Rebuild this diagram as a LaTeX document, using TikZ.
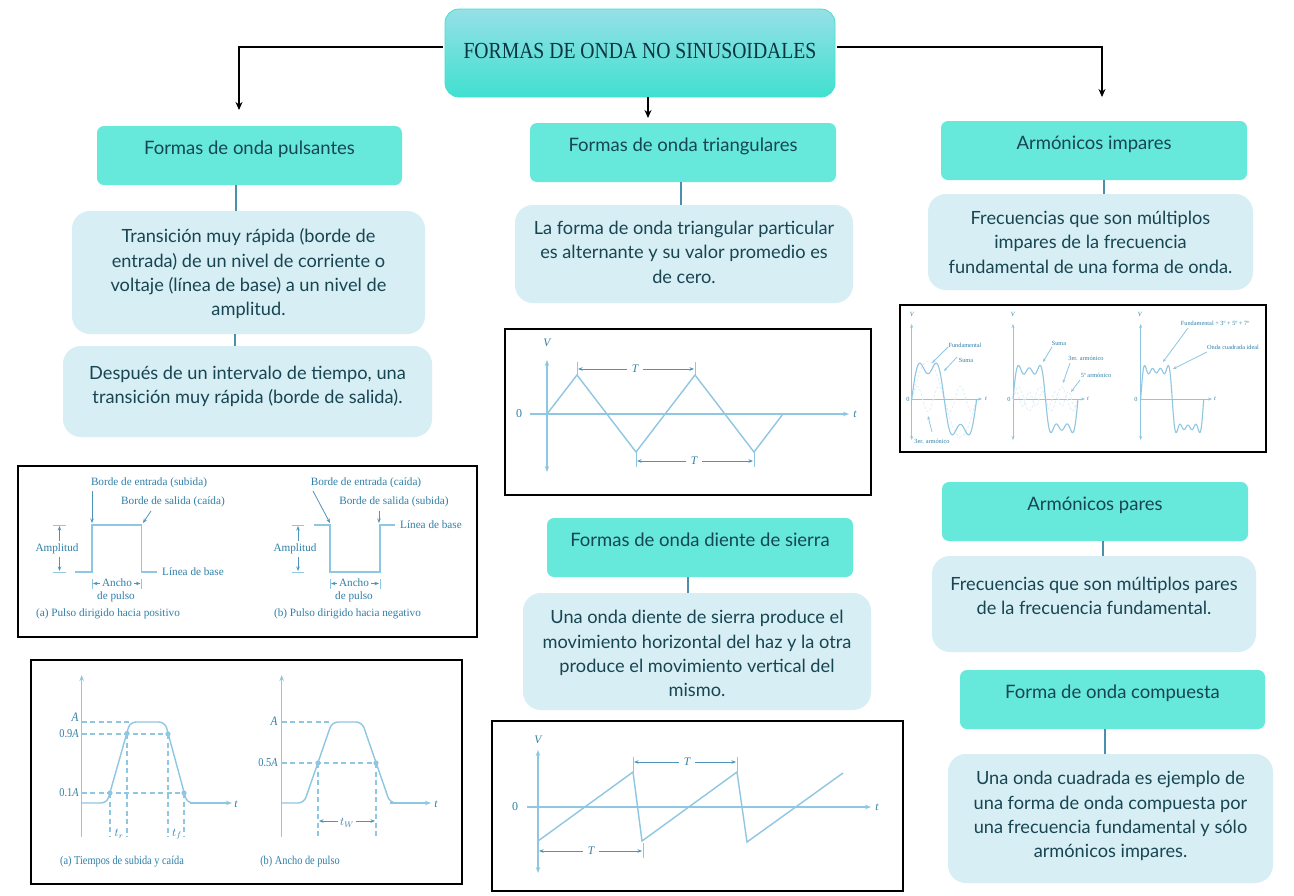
\documentclass[tikz,border=0pt]{standalone}
\usepackage{fontspec}
\usepackage{graphicx}
\setmainfont{Lato}
\newfontfamily\figfont{Liberation Serif}
\usetikzlibrary{arrows.meta,shadings}
\definecolor{headfill}{HTML}{66E8DA}
\definecolor{palefill}{HTML}{D6EEF4}
\definecolor{bodyink}{HTML}{184552}
\definecolor{titleink}{HTML}{0B3540}
\definecolor{linkblue}{HTML}{4A8FAE}
\definecolor{figline}{HTML}{8FC6E2}
\definecolor{figfaint}{HTML}{E2F0F7}
\definecolor{figink}{HTML}{2F7FA8}
\definecolor{titletop}{HTML}{96E0E6}
\definecolor{titlebot}{HTML}{40E0D0}
\newcommand{\bx}[7][]{%
  \pgfmathsetmacro{\bxcx}{(#3+#5)/2}\pgfmathsetmacro{\bxcy}{(#4+#6)/2}%
  \pgfmathsetmacro{\bxw}{#5-#3}\pgfmathsetmacro{\bxh}{#6-#4}%
  \node[#1,minimum width=\bxw pt,minimum height=\bxh pt] (#2) at (\bxcx,\bxcy) {#7};}
\newcommand{\headtext}[1]{\raisebox{1pt}[0pt][0pt]{#1}}
\newcommand{\bodytext}[2]{\raisebox{\dimexpr #1pt-6.2pt\relax}[0pt][0pt]{\begin{tabular}[c]{@{}c@{}}#2\end{tabular}}}
\newcommand{\cond}[1]{\scalebox{.86}[1]{#1}}
\tikzset{
  x=1pt,y=-1pt,
  headbox/.style={rectangle,rounded corners=7pt,fill=headfill,inner sep=0pt,text=bodyink,font=\fontsize{18.5}{22}\selectfont},
  palebox/.style={rectangle,rounded corners=18pt,fill=palefill,inner sep=0pt,text=bodyink,font=\fontsize{18.2}{24.3}\selectfont},
  titlebox/.style={rectangle,rounded corners=14pt,top color=titletop,bottom color=titlebot,draw=titlebot,line width=.8pt,inner sep=0pt,text=titleink,font=\fontsize{23}{26}\figfont},
  framebox/.style={rectangle,draw=black,line width=1.8pt,inner sep=0pt},
  mainlink/.style={draw=black,line width=1.6pt,-{Stealth[length=8pt,width=7pt]}},
  sublink/.style={draw=linkblue,line width=1.2pt},
  curve/.style={draw=figline,line width=1.4pt},
  hcurve/.style={draw=figline,line width=1.1pt},
  faint/.style={draw=figfaint,line width=.9pt,dash pattern=on 2.5pt off 2pt},
  dashline/.style={draw=figline,line width=1.1pt,dash pattern=on 5pt off 3.5pt},
  thin line/.style={draw=figline,line width=.9pt},
  axis/.style={draw=figline,line width=1.2pt,-{Stealth[length=6pt,width=4.5pt]}},
  axistwo/.style={draw=figline,line width=1.2pt,{Stealth[length=6pt,width=4.5pt]}-{Stealth[length=6pt,width=4.5pt]}},
  tiny arrow/.style={draw=figink!70!figline,line width=.8pt,-{Stealth[length=4.5pt,width=3.5pt]}},
  figa/.style={inner sep=0pt,text=figink,font=\fontsize{11.2}{13}\figfont},
  figb/.style={inner sep=0pt,text=figink,font=\fontsize{12}{13}\figfont},
  figc/.style={inner sep=0pt,text=figink,font=\fontsize{11.5}{13}\figfont\itshape},
  figd/.style={inner sep=0pt,text=figink,font=\fontsize{6.3}{8}\figfont},
  dotp/.style={fill=figline,draw=none},
}
\begin{document}
\begin{tikzpicture}
\useasboundingbox (0,0) rectangle (1294,895);
\fill[white] (0,0) rectangle (1294,895);

% frames
\bx[framebox]{figpulse}{18}{466}{477}{637}{}
\bx[framebox]{figtimes}{31}{660}{462}{884}{}
\bx[framebox]{figtri}{505}{329}{871}{495}{}
\bx[framebox]{figsaw}{492}{721}{903}{891}{}
\bx[framebox]{figharm}{900}{305}{1266}{452}{}

% boxes
\bx[titlebox]{title}{445}{9}{835}{97}{\raisebox{-5pt}[0pt][0pt]{\scalebox{.855}[1]{FORMAS DE ONDA NO SINUSOIDALES}}}
\bx[headbox]{pul}{97}{126}{402}{185}{\headtext{Formas de onda pulsantes}}
\bx[palebox]{pa}{72}{211}{425}{334}{\bodytext{0}{Transición muy rápida (borde de\\entrada) de un nivel de corriente o\\voltaje (línea de base) a un nivel de\\amplitud.}}
\bx[palebox]{pb}{63}{346}{432}{437}{\bodytext{7}{Después de un intervalo de tiempo, una\\transición muy rápida (borde de salida).}}
\bx[headbox]{tri}{530}{123}{836}{182}{\headtext{Formas de onda triangulares}}
\bx[palebox]{ta}{515}{205}{853}{303}{\bodytext{2}{La forma de onda triangular particular\\es alternante y su valor promedio es\\de cero.}}
\bx[headbox]{saw}{547}{518}{853}{577}{\headtext{Formas de onda diente de sierra}}
\bx[palebox]{sa}{523}{593}{871}{710}{\bodytext{-2}{Una onda diente de sierra produce el\\movimiento horizontal del haz y la otra\\produce el movimiento vertical del\\mismo.}}
\bx[headbox]{imp}{941}{121}{1247}{180}{\headtext{Armónicos impares}}
\bx[palebox]{ia}{928}{194}{1253}{290}{\bodytext{0}{Frecuencias que son múltiplos\\impares de la frecuencia\\fundamental de una forma de onda.}}
\bx[headbox]{par}{942}{482}{1248}{541}{\headtext{Armónicos pares}}
\bx[palebox]{ra}{932}{556}{1256}{652}{\bodytext{8}{Frecuencias que son múltiplos pares\\de la frecuencia fundamental.}}
\bx[headbox]{com}{960}{670}{1265}{729}{\headtext{Forma de onda compuesta}}
\bx[palebox]{ca}{948}{754}{1273}{883}{\bodytext{4}{Una onda cuadrada es ejemplo de\\una forma de onda compuesta por\\una frecuencia fundamental y sólo\\armónicos impares.}}

% main connectors
\coordinate (endl) at (239,110);
\coordinate (endm) at (648,118);
\coordinate (endr) at (1102,97);
\draw[mainlink] ([yshift=6pt,xshift=-2pt]title.west) -- ([yshift=6pt]title.west -| endl) -- (endl);
\draw[mainlink] (title.south -| endm) -- (endm);
\draw[mainlink] ([yshift=6pt,xshift=2pt]title.east) -- ([yshift=6pt]title.east -| endr) -- (endr);

% sub connectors
\draw[sublink] ([xshift=-13.5pt]pul.south) -- ([xshift=-12.5pt]pa.north);
\draw[sublink] ([xshift=-13.5pt]pa.south) -- ([xshift=-13.5pt]pa.south |- pb.north);
\draw[sublink] ([xshift=-2pt]tri.south) -- ([xshift=-2pt]tri.south |- ta.north);
\draw[sublink] ([xshift=-12pt]saw.south) -- ([xshift=-12pt]saw.south |- sa.north);
\draw[sublink] ([xshift=10pt]imp.south) -- ([xshift=10pt]imp.south |- ia.north);
\draw[sublink] ([xshift=8pt]par.south) -- ([xshift=8pt]par.south |- ra.north);
\draw[sublink] ([xshift=-7.5pt]com.south) -- ([xshift=-7.5pt]com.south |- ca.north);

% ---------- figure: pulses ----------
\draw[curve] (75,572) -- (92,572) -- (92,525) -- (141.5,525) -- (141.5,572) -- (157,572);
\draw[curve] (314,525) -- (330,525) -- (330,572) -- (380,572) -- (380,525) -- (395,525);
\foreach \xa/\xb in {53/66,292/304}{
  \draw[thin line] (\xa,525) -- (\xb,525);
  \draw[thin line] (\xa,572) -- (\xb,572);
  \pgfmathsetmacro{\xm}{(\xa+\xb)/2}
  \draw[tiny arrow] (\xm,541) -- (\xm,526);
  \draw[tiny arrow] (\xm,557) -- (\xm,571);
}
\foreach \xa/\xb/\ym in {92/141.5/117,330/380/354}{
  \draw[thin line] (\xa,579) -- (\xa,589);
  \draw[thin line] (\xb,579) -- (\xb,589);
  \draw[tiny arrow] (\ym-17,583.5) -- (\xa+1,583.5);
  \draw[tiny arrow] (\ym+17,583.5) -- (\xb-1,583.5);
}
\node[figa] (pl1) at (149,483) {Borde de entrada (subida)};
\node[figa] (pl2) at (173,502) {Borde de salida (caída)};
\node[figa] (pl3) at (193,572) {Línea de base};
\node[figa] (pl4) at (57,549) {Amplitud};
\node[figa] (pl5) at (117,583) {Ancho};
\node[figa] (pl6) at (116,596.5) {de pulso};
\node[figa] (pl7) at (108,614) {(a) Pulso dirigido hacia positivo};
\node[figa] (pl8) at (366,483) {Borde de entrada (caída)};
\node[figa] (pl9) at (394,501.5) {Borde de salida (subida)};
\node[figa] (pl10) at (431,525) {Línea de base};
\node[figa] (pl11) at (295,549) {Amplitud};
\node[figa] (pl12) at (354,583) {Ancho};
\node[figa] (pl13) at (354,596.5) {de pulso};
\node[figa] (pl14) at (347.5,614) {(b) Pulso dirigido hacia negativo};
\draw[tiny arrow] (92,491) -- (92,523);
\draw[tiny arrow] (151,511) -- (143,523);
\draw[tiny arrow] (313,491) -- (330,523);
\draw[tiny arrow] (379,511) -- (379,523);

% ---------- figure: rise / fall times ----------
\draw[axis] (81.7,837) -- (81.7,675);
\draw[axis] (190,803) -- (232,803);
\draw[axis] (281.7,837) -- (281.7,675);
\draw[axis] (390,803) -- (431,803);
\draw[curve,rounded corners=6pt] (81.7,803) -- (107,803) -- (130,722) -- (165,722) -- (187,803) -- (195,803);
\draw[curve,rounded corners=6pt] (281.7,803) -- (304,803) -- (332,722) -- (362,722) -- (390,803) -- (395,803);
\draw[dashline] (81.7,722) -- (132,722);
\draw[dashline] (81.7,734) -- (168,734);
\draw[dashline] (81.7,793) -- (184,793);
\draw[dashline] (110,793) -- (110,837);
\draw[dashline] (127,734) -- (127,837);
\draw[dashline] (168,734) -- (168,837);
\draw[dashline] (184,793) -- (184,837);
\draw[dashline] (281.7,722) -- (332,722);
\draw[dashline] (281.7,763) -- (376,763);
\draw[dashline] (318,763) -- (318,837);
\draw[dashline] (376,763) -- (376,837);
\foreach \px/\py in {110/793,127/733.5,168/734,184/793,318/763,376/763}{
  \fill[dotp] (\px,\py) circle (2.6);
}
\draw[tiny arrow] (338,821) -- (319,821);
\draw[tiny arrow] (356,821) -- (375,821);
\node[figb,font=\fontsize{13}{14}\figfont\itshape] (tl1) at (75,717) {\cond{A}};
\node[figb] (tl2) at (69,734) {\cond{0.9\textit{A}}};
\node[figb] (tl3) at (69,793) {\cond{0.1\textit{A}}};
\node[figb] (tl4) at (119,834) {$t_r$};
\node[figb] (tl5) at (177,834) {$t_f$};
\node[figc] (tl6) at (236,804) {t};
\node[figb] (tl7) at (122,862) {\cond{(a) Tiempos de subida y caída}};
\node[figb,font=\fontsize{13}{14}\figfont\itshape] (tl8) at (274,721) {\cond{A}};
\node[figb] (tl9) at (268,763) {\cond{0.5\textit{A}}};
\node[figb] (tl10) at (347,823) {$t_W$};
\node[figc] (tl11) at (436,804) {t};
\node[figb] (tl12) at (300,862) {\cond{(b) Ancho de pulso}};

% ---------- figure: triangular ----------
\draw[axistwo] (547,472) -- (547,360);
\draw[axis] (530,414) -- (849,414);
\draw[curve] (547,414) -- (577,375) -- (636,452) -- (695,375) -- (754,452) -- (783,414);
\draw[thin line] (577,362) -- (577,375);
\draw[thin line] (695,362) -- (695,375);
\draw[thin line] (636,452) -- (636,467);
\draw[thin line] (754,452) -- (754,467);
\draw[tiny arrow] (627,369) -- (578,369);
\draw[tiny arrow] (643,369) -- (694,369);
\draw[tiny arrow] (686,461) -- (637,461);
\draw[tiny arrow] (702,461) -- (753,461);
\node[figc] (tr1) at (547,343) {V};
\node[figb] (tr2) at (519,414) {0};
\node[figc] (tr3) at (855,414) {t};
\node[figc] (tr4) at (635,369) {T};
\node[figc] (tr5) at (694,461) {T};

% ---------- figure: sawtooth ----------
\draw[axistwo] (538,873) -- (538,750);
\draw[axis] (527,807) -- (871,807);
\draw[curve] (538,841) -- (633,772) -- (642,841) -- (737,772) -- (747,842) -- (843,773);
\draw[thin line] (633,757) -- (633,772);
\draw[thin line] (737,757) -- (737,772);
\draw[thin line] (538,843) -- (538,858);
\draw[thin line] (643,843) -- (643,858);
\draw[tiny arrow] (679,762) -- (634,762);
\draw[tiny arrow] (695,762) -- (736,762);
\draw[tiny arrow] (583,851) -- (539,851);
\draw[tiny arrow] (599,851) -- (642,851);
\node[figc] (sw1) at (538,740) {V};
\node[figb] (sw2) at (515,807) {0};
\node[figc] (sw3) at (877,807) {t};
\node[figc] (sw4) at (687,762) {T};
\node[figc] (sw5) at (591,851) {T};

% ---------- figure: harmonics ----------
\tikzset{smallaxis/.style={draw=figline,line width=.9pt,{Stealth[length=4pt,width=3pt]}-{Stealth[length=4pt,width=3pt]}},
  smallx/.style={draw=figline,line width=.9pt,-{Stealth[length=4pt,width=3pt]}},
  leader/.style={draw=figline,line width=.8pt,-{Stealth[length=3.5pt,width=2.8pt]}}}
% first
\draw[smallaxis] (911.7,440) -- (911.7,324);
\draw[smallx] (911.7,399) -- (982,399);
\draw[faint] plot[domain=0:360,samples=60,smooth] ({911.7+\x*32.5/180},{399-38*sin(\x)});
\draw[faint] plot[domain=0:360,samples=80,smooth] ({911.7+\x*32.5/180},{399-12.7*sin(3*\x)});
\draw[hcurve] plot[domain=0:360,samples=120,smooth] ({911.7+\x*32.5/180},{399-38*(sin(\x)+sin(3*\x)/3)});
% second
\draw[smallaxis] (1013,440) -- (1013,324);
\draw[smallx] (1013,399) -- (1085,399);
\draw[faint] plot[domain=0:360,samples=80,smooth] ({1013+\x*32.5/180},{399-12*sin(3*\x)});
\draw[faint] plot[domain=0:360,samples=100,smooth] ({1013+\x*32.5/180},{399-7.2*sin(5*\x)});
\draw[hcurve] plot[domain=0:360,samples=160,smooth] ({1013+\x*32.5/180},{399-36*(sin(\x)+sin(3*\x)/3+sin(5*\x)/5)});
% third
\draw[smallaxis] (1140.7,440) -- (1140.7,324);
\draw[smallx] (1140.7,399) -- (1212,399);
\draw[hcurve] plot[domain=0:360,samples=200,smooth] ({1140.7+\x*31.5/180},{399-36*(sin(\x)+sin(3*\x)/3+sin(5*\x)/5+sin(7*\x)/7)});
% labels
\node[figd] (h1) at (912,314) {\textit{V}};
\node[figd] (h2) at (908,399) {0};
\node[figd] (h3) at (986,399) {\textit{t}};
\node[figd] (h4) at (965,345) {Fundamental};
\node[figd] (h5) at (966,360) {Suma};
\node[figd] (h6) at (932,441) {3er. armónico};
\node[figd] (h7) at (1013,314) {\textit{V}};
\node[figd] (h8) at (1009,399) {0};
\node[figd] (h9) at (1088,399) {\textit{t}};
\node[figd] (h10) at (1059,343) {Suma};
\node[figd] (h11) at (1086,358) {3er. armónico};
\node[figd] (h12) at (1096,375) {5º armónico};
\node[figd] (h13) at (1140,314) {\textit{V}};
\node[figd] (h14) at (1136,399) {0};
\node[figd] (h15) at (1215,399) {\textit{t}};
\node[figd] (h16) at (1215,323) {Fundamental + 3º + 5º + 7º};
\node[figd] (h17) at (1233,347.5) {Onda cuadrada ideal};
\draw[leader] (948,347) -- (932,363);
\draw[leader] (957,357) -- (944,371);
\draw[leader] (932,432) -- (928,416);
\draw[leader] (1052,347) -- (1043,362);
\draw[leader] (1070,363) -- (1063,383);
\draw[leader] (1080,380) -- (1071,392);
\draw[leader] (1188,328) -- (1163,362);
\draw[leader] (1207,352) -- (1173,369);
\end{tikzpicture}
\end{document}
